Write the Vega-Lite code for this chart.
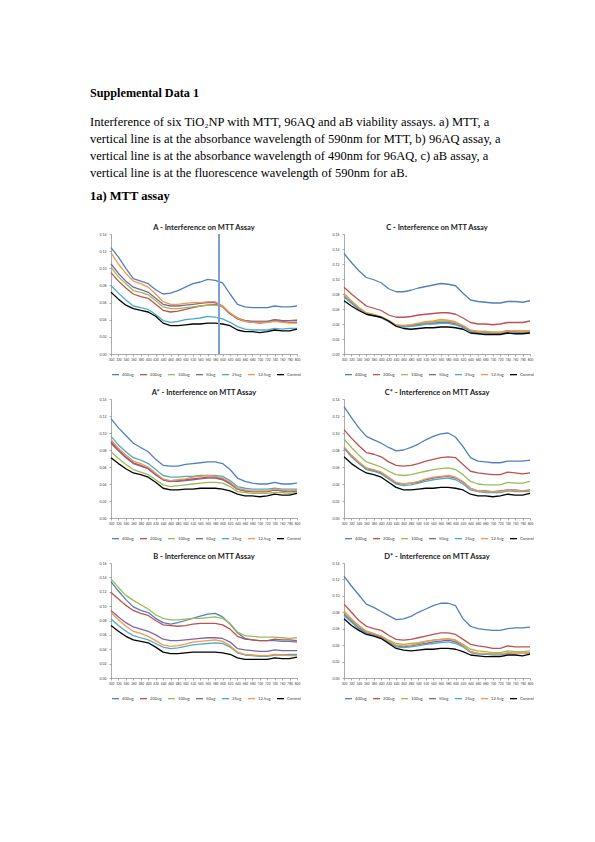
{
  "$schema": "https://vega.github.io/schema/vega-lite/v6.json",
  "background": "white",
  "padding": {"left": 90, "top": 86, "right": 0, "bottom": 0},
  "title": {
    "text": "Supplemental Data 1",
    "anchor": "start",
    "font": "Liberation Serif",
    "fontSize": 12.2,
    "fontWeight": "bold",
    "color": "black",
    "offset": 17
  },
  "datasets": {
    "A": [
      {"wl": 300, "400ug": 0.124, "200ug": 0.095, "100ug": 0.101, "50ug": 0.105, "25ug": 0.080, "12_5ug": 0.118, "Control": 0.072},
      {"wl": 320, "400ug": 0.113, "200ug": 0.085, "100ug": 0.090, "50ug": 0.094, "25ug": 0.071, "12_5ug": 0.105, "Control": 0.064},
      {"wl": 340, "400ug": 0.100, "200ug": 0.077, "100ug": 0.082, "50ug": 0.085, "25ug": 0.063, "12_5ug": 0.094, "Control": 0.057},
      {"wl": 360, "400ug": 0.088, "200ug": 0.070, "100ug": 0.074, "50ug": 0.078, "25ug": 0.056, "12_5ug": 0.085, "Control": 0.053},
      {"wl": 380, "400ug": 0.085, "200ug": 0.067, "100ug": 0.072, "50ug": 0.075, "25ug": 0.054, "12_5ug": 0.082, "Control": 0.051},
      {"wl": 400, "400ug": 0.082, "200ug": 0.065, "100ug": 0.069, "50ug": 0.072, "25ug": 0.052, "12_5ug": 0.078, "Control": 0.049},
      {"wl": 420, "400ug": 0.075, "200ug": 0.058, "100ug": 0.062, "50ug": 0.065, "25ug": 0.046, "12_5ug": 0.070, "Control": 0.044},
      {"wl": 440, "400ug": 0.070, "200ug": 0.051, "100ug": 0.055, "50ug": 0.058, "25ug": 0.039, "12_5ug": 0.061, "Control": 0.036},
      {"wl": 460, "400ug": 0.071, "200ug": 0.049, "100ug": 0.053, "50ug": 0.056, "25ug": 0.037, "12_5ug": 0.058, "Control": 0.033},
      {"wl": 480, "400ug": 0.074, "200ug": 0.050, "100ug": 0.053, "50ug": 0.056, "25ug": 0.038, "12_5ug": 0.058, "Control": 0.033},
      {"wl": 500, "400ug": 0.078, "200ug": 0.052, "100ug": 0.054, "50ug": 0.057, "25ug": 0.040, "12_5ug": 0.059, "Control": 0.034},
      {"wl": 520, "400ug": 0.082, "200ug": 0.054, "100ug": 0.055, "50ug": 0.058, "25ug": 0.041, "12_5ug": 0.060, "Control": 0.035},
      {"wl": 540, "400ug": 0.084, "200ug": 0.056, "100ug": 0.056, "50ug": 0.059, "25ug": 0.042, "12_5ug": 0.060, "Control": 0.035},
      {"wl": 560, "400ug": 0.087, "200ug": 0.057, "100ug": 0.057, "50ug": 0.060, "25ug": 0.044, "12_5ug": 0.061, "Control": 0.036},
      {"wl": 580, "400ug": 0.086, "200ug": 0.058, "100ug": 0.057, "50ug": 0.060, "25ug": 0.043, "12_5ug": 0.061, "Control": 0.036},
      {"wl": 600, "400ug": 0.083, "200ug": 0.055, "100ug": 0.055, "50ug": 0.056, "25ug": 0.041, "12_5ug": 0.056, "Control": 0.035},
      {"wl": 620, "400ug": 0.070, "200ug": 0.047, "100ug": 0.047, "50ug": 0.047, "25ug": 0.037, "12_5ug": 0.048, "Control": 0.033},
      {"wl": 640, "400ug": 0.058, "200ug": 0.041, "100ug": 0.042, "50ug": 0.042, "25ug": 0.032, "12_5ug": 0.042, "Control": 0.028},
      {"wl": 660, "400ug": 0.055, "200ug": 0.038, "100ug": 0.039, "50ug": 0.039, "25ug": 0.029, "12_5ug": 0.038, "Control": 0.026},
      {"wl": 680, "400ug": 0.054, "200ug": 0.037, "100ug": 0.038, "50ug": 0.038, "25ug": 0.028, "12_5ug": 0.037, "Control": 0.026},
      {"wl": 700, "400ug": 0.054, "200ug": 0.036, "100ug": 0.038, "50ug": 0.038, "25ug": 0.028, "12_5ug": 0.037, "Control": 0.025},
      {"wl": 720, "400ug": 0.054, "200ug": 0.037, "100ug": 0.038, "50ug": 0.038, "25ug": 0.028, "12_5ug": 0.037, "Control": 0.026},
      {"wl": 740, "400ug": 0.056, "200ug": 0.039, "100ug": 0.040, "50ug": 0.040, "25ug": 0.030, "12_5ug": 0.038, "Control": 0.028},
      {"wl": 760, "400ug": 0.055, "200ug": 0.038, "100ug": 0.039, "50ug": 0.039, "25ug": 0.029, "12_5ug": 0.037, "Control": 0.027},
      {"wl": 780, "400ug": 0.055, "200ug": 0.037, "100ug": 0.039, "50ug": 0.039, "25ug": 0.030, "12_5ug": 0.036, "Control": 0.027},
      {"wl": 800, "400ug": 0.056, "200ug": 0.037, "100ug": 0.040, "50ug": 0.039, "25ug": 0.030, "12_5ug": 0.036, "Control": 0.029}
    ],
    "C": [
      {"wl": 300, "400ug": 0.134, "200ug": 0.089, "100ug": 0.079, "50ug": 0.076, "25ug": 0.077, "12_5ug": 0.081, "Control": 0.071},
      {"wl": 320, "400ug": 0.122, "200ug": 0.080, "100ug": 0.070, "50ug": 0.068, "25ug": 0.068, "12_5ug": 0.071, "Control": 0.064},
      {"wl": 340, "400ug": 0.111, "200ug": 0.072, "100ug": 0.061, "50ug": 0.060, "25ug": 0.060, "12_5ug": 0.062, "Control": 0.058},
      {"wl": 360, "400ug": 0.102, "200ug": 0.064, "100ug": 0.054, "50ug": 0.054, "25ug": 0.053, "12_5ug": 0.055, "Control": 0.053},
      {"wl": 380, "400ug": 0.099, "200ug": 0.061, "100ug": 0.052, "50ug": 0.052, "25ug": 0.051, "12_5ug": 0.053, "Control": 0.051},
      {"wl": 400, "400ug": 0.095, "200ug": 0.058, "100ug": 0.049, "50ug": 0.049, "25ug": 0.048, "12_5ug": 0.050, "Control": 0.049},
      {"wl": 420, "400ug": 0.087, "200ug": 0.052, "100ug": 0.044, "50ug": 0.044, "25ug": 0.043, "12_5ug": 0.045, "Control": 0.044},
      {"wl": 440, "400ug": 0.083, "200ug": 0.049, "100ug": 0.038, "50ug": 0.038, "25ug": 0.037, "12_5ug": 0.039, "Control": 0.037},
      {"wl": 460, "400ug": 0.083, "200ug": 0.049, "100ug": 0.037, "50ug": 0.037, "25ug": 0.036, "12_5ug": 0.038, "Control": 0.034},
      {"wl": 480, "400ug": 0.085, "200ug": 0.050, "100ug": 0.038, "50ug": 0.038, "25ug": 0.037, "12_5ug": 0.039, "Control": 0.033},
      {"wl": 500, "400ug": 0.088, "200ug": 0.052, "100ug": 0.040, "50ug": 0.039, "25ug": 0.038, "12_5ug": 0.041, "Control": 0.034},
      {"wl": 520, "400ug": 0.090, "200ug": 0.053, "100ug": 0.042, "50ug": 0.040, "25ug": 0.040, "12_5ug": 0.043, "Control": 0.035},
      {"wl": 540, "400ug": 0.092, "200ug": 0.054, "100ug": 0.043, "50ug": 0.041, "25ug": 0.040, "12_5ug": 0.044, "Control": 0.035},
      {"wl": 560, "400ug": 0.094, "200ug": 0.055, "100ug": 0.044, "50ug": 0.042, "25ug": 0.041, "12_5ug": 0.046, "Control": 0.036},
      {"wl": 580, "400ug": 0.093, "200ug": 0.055, "100ug": 0.044, "50ug": 0.042, "25ug": 0.041, "12_5ug": 0.045, "Control": 0.036},
      {"wl": 600, "400ug": 0.091, "200ug": 0.053, "100ug": 0.042, "50ug": 0.040, "25ug": 0.039, "12_5ug": 0.043, "Control": 0.035},
      {"wl": 620, "400ug": 0.081, "200ug": 0.048, "100ug": 0.037, "50ug": 0.036, "25ug": 0.035, "12_5ug": 0.038, "Control": 0.033},
      {"wl": 640, "400ug": 0.072, "200ug": 0.042, "100ug": 0.031, "50ug": 0.031, "25ug": 0.030, "12_5ug": 0.032, "Control": 0.028},
      {"wl": 660, "400ug": 0.070, "200ug": 0.040, "100ug": 0.030, "50ug": 0.029, "25ug": 0.029, "12_5ug": 0.030, "Control": 0.027},
      {"wl": 680, "400ug": 0.069, "200ug": 0.040, "100ug": 0.030, "50ug": 0.029, "25ug": 0.028, "12_5ug": 0.030, "Control": 0.026},
      {"wl": 700, "400ug": 0.068, "200ug": 0.039, "100ug": 0.029, "50ug": 0.028, "25ug": 0.028, "12_5ug": 0.029, "Control": 0.026},
      {"wl": 720, "400ug": 0.068, "200ug": 0.040, "100ug": 0.029, "50ug": 0.028, "25ug": 0.028, "12_5ug": 0.029, "Control": 0.026},
      {"wl": 740, "400ug": 0.070, "200ug": 0.042, "100ug": 0.031, "50ug": 0.030, "25ug": 0.030, "12_5ug": 0.031, "Control": 0.028},
      {"wl": 760, "400ug": 0.070, "200ug": 0.042, "100ug": 0.031, "50ug": 0.030, "25ug": 0.029, "12_5ug": 0.031, "Control": 0.027},
      {"wl": 780, "400ug": 0.069, "200ug": 0.042, "100ug": 0.031, "50ug": 0.029, "25ug": 0.029, "12_5ug": 0.030, "Control": 0.027},
      {"wl": 800, "400ug": 0.071, "200ug": 0.044, "100ug": 0.031, "50ug": 0.030, "25ug": 0.030, "12_5ug": 0.031, "Control": 0.028}
    ],
    "As": [
      {"wl": 300, "400ug": 0.117, "200ug": 0.090, "100ug": 0.078, "50ug": 0.088, "25ug": 0.096, "12_5ug": 0.092, "Control": 0.071},
      {"wl": 320, "400ug": 0.106, "200ug": 0.080, "100ug": 0.070, "50ug": 0.079, "25ug": 0.086, "12_5ug": 0.082, "Control": 0.064},
      {"wl": 340, "400ug": 0.097, "200ug": 0.072, "100ug": 0.063, "50ug": 0.071, "25ug": 0.078, "12_5ug": 0.074, "Control": 0.058},
      {"wl": 360, "400ug": 0.088, "200ug": 0.065, "100ug": 0.057, "50ug": 0.064, "25ug": 0.071, "12_5ug": 0.067, "Control": 0.053},
      {"wl": 380, "400ug": 0.083, "200ug": 0.062, "100ug": 0.054, "50ug": 0.061, "25ug": 0.068, "12_5ug": 0.064, "Control": 0.051},
      {"wl": 400, "400ug": 0.078, "200ug": 0.058, "100ug": 0.051, "50ug": 0.058, "25ug": 0.064, "12_5ug": 0.060, "Control": 0.048},
      {"wl": 420, "400ug": 0.069, "200ug": 0.051, "100ug": 0.045, "50ug": 0.051, "25ug": 0.057, "12_5ug": 0.053, "Control": 0.042},
      {"wl": 440, "400ug": 0.062, "200ug": 0.045, "100ug": 0.039, "50ug": 0.045, "25ug": 0.050, "12_5ug": 0.046, "Control": 0.035},
      {"wl": 460, "400ug": 0.061, "200ug": 0.043, "100ug": 0.037, "50ug": 0.043, "25ug": 0.048, "12_5ug": 0.044, "Control": 0.033},
      {"wl": 480, "400ug": 0.061, "200ug": 0.044, "100ug": 0.038, "50ug": 0.043, "25ug": 0.048, "12_5ug": 0.045, "Control": 0.033},
      {"wl": 500, "400ug": 0.063, "200ug": 0.045, "100ug": 0.039, "50ug": 0.044, "25ug": 0.049, "12_5ug": 0.046, "Control": 0.034},
      {"wl": 520, "400ug": 0.064, "200ug": 0.046, "100ug": 0.040, "50ug": 0.045, "25ug": 0.049, "12_5ug": 0.048, "Control": 0.034},
      {"wl": 540, "400ug": 0.065, "200ug": 0.047, "100ug": 0.041, "50ug": 0.046, "25ug": 0.050, "12_5ug": 0.049, "Control": 0.035},
      {"wl": 560, "400ug": 0.066, "200ug": 0.048, "100ug": 0.042, "50ug": 0.047, "25ug": 0.050, "12_5ug": 0.050, "Control": 0.035},
      {"wl": 580, "400ug": 0.066, "200ug": 0.048, "100ug": 0.042, "50ug": 0.047, "25ug": 0.050, "12_5ug": 0.049, "Control": 0.035},
      {"wl": 600, "400ug": 0.064, "200ug": 0.046, "100ug": 0.041, "50ug": 0.045, "25ug": 0.049, "12_5ug": 0.047, "Control": 0.034},
      {"wl": 620, "400ug": 0.057, "200ug": 0.041, "100ug": 0.037, "50ug": 0.040, "25ug": 0.044, "12_5ug": 0.042, "Control": 0.032},
      {"wl": 640, "400ug": 0.047, "200ug": 0.034, "100ug": 0.031, "50ug": 0.034, "25ug": 0.037, "12_5ug": 0.035, "Control": 0.028},
      {"wl": 660, "400ug": 0.043, "200ug": 0.032, "100ug": 0.030, "50ug": 0.032, "25ug": 0.035, "12_5ug": 0.033, "Control": 0.026},
      {"wl": 680, "400ug": 0.041, "200ug": 0.031, "100ug": 0.029, "50ug": 0.031, "25ug": 0.034, "12_5ug": 0.032, "Control": 0.026},
      {"wl": 700, "400ug": 0.040, "200ug": 0.031, "100ug": 0.029, "50ug": 0.031, "25ug": 0.034, "12_5ug": 0.032, "Control": 0.025},
      {"wl": 720, "400ug": 0.040, "200ug": 0.031, "100ug": 0.029, "50ug": 0.031, "25ug": 0.034, "12_5ug": 0.032, "Control": 0.026},
      {"wl": 740, "400ug": 0.042, "200ug": 0.033, "100ug": 0.030, "50ug": 0.033, "25ug": 0.035, "12_5ug": 0.034, "Control": 0.028},
      {"wl": 760, "400ug": 0.040, "200ug": 0.032, "100ug": 0.030, "50ug": 0.032, "25ug": 0.034, "12_5ug": 0.033, "Control": 0.027},
      {"wl": 780, "400ug": 0.040, "200ug": 0.031, "100ug": 0.029, "50ug": 0.031, "25ug": 0.034, "12_5ug": 0.032, "Control": 0.027},
      {"wl": 800, "400ug": 0.041, "200ug": 0.032, "100ug": 0.030, "50ug": 0.032, "25ug": 0.034, "12_5ug": 0.033, "Control": 0.029}
    ],
    "Cs": [
      {"wl": 300, "400ug": 0.131, "200ug": 0.104, "100ug": 0.093, "50ug": 0.083, "25ug": 0.082, "12_5ug": 0.084, "Control": 0.072},
      {"wl": 320, "400ug": 0.118, "200ug": 0.094, "100ug": 0.083, "50ug": 0.073, "25ug": 0.072, "12_5ug": 0.074, "Control": 0.064},
      {"wl": 340, "400ug": 0.106, "200ug": 0.085, "100ug": 0.074, "50ug": 0.065, "25ug": 0.064, "12_5ug": 0.066, "Control": 0.058},
      {"wl": 360, "400ug": 0.096, "200ug": 0.077, "100ug": 0.066, "50ug": 0.058, "25ug": 0.057, "12_5ug": 0.059, "Control": 0.053},
      {"wl": 380, "400ug": 0.092, "200ug": 0.075, "100ug": 0.063, "50ug": 0.056, "25ug": 0.055, "12_5ug": 0.057, "Control": 0.051},
      {"wl": 400, "400ug": 0.088, "200ug": 0.072, "100ug": 0.060, "50ug": 0.053, "25ug": 0.052, "12_5ug": 0.054, "Control": 0.048},
      {"wl": 420, "400ug": 0.083, "200ug": 0.066, "100ug": 0.055, "50ug": 0.047, "25ug": 0.046, "12_5ug": 0.048, "Control": 0.042},
      {"wl": 440, "400ug": 0.079, "200ug": 0.062, "100ug": 0.051, "50ug": 0.041, "25ug": 0.040, "12_5ug": 0.042, "Control": 0.036},
      {"wl": 460, "400ug": 0.080, "200ug": 0.061, "100ug": 0.050, "50ug": 0.040, "25ug": 0.038, "12_5ug": 0.040, "Control": 0.033},
      {"wl": 480, "400ug": 0.083, "200ug": 0.062, "100ug": 0.051, "50ug": 0.041, "25ug": 0.039, "12_5ug": 0.041, "Control": 0.033},
      {"wl": 500, "400ug": 0.087, "200ug": 0.064, "100ug": 0.053, "50ug": 0.042, "25ug": 0.041, "12_5ug": 0.043, "Control": 0.034},
      {"wl": 520, "400ug": 0.092, "200ug": 0.067, "100ug": 0.055, "50ug": 0.045, "25ug": 0.043, "12_5ug": 0.046, "Control": 0.035},
      {"wl": 540, "400ug": 0.096, "200ug": 0.069, "100ug": 0.057, "50ug": 0.047, "25ug": 0.045, "12_5ug": 0.048, "Control": 0.035},
      {"wl": 560, "400ug": 0.099, "200ug": 0.071, "100ug": 0.058, "50ug": 0.048, "25ug": 0.046, "12_5ug": 0.049, "Control": 0.036},
      {"wl": 580, "400ug": 0.100, "200ug": 0.072, "100ug": 0.059, "50ug": 0.049, "25ug": 0.047, "12_5ug": 0.050, "Control": 0.036},
      {"wl": 600, "400ug": 0.095, "200ug": 0.071, "100ug": 0.057, "50ug": 0.047, "25ug": 0.045, "12_5ug": 0.048, "Control": 0.035},
      {"wl": 620, "400ug": 0.084, "200ug": 0.063, "100ug": 0.051, "50ug": 0.042, "25ug": 0.040, "12_5ug": 0.043, "Control": 0.033},
      {"wl": 640, "400ug": 0.071, "200ug": 0.055, "100ug": 0.043, "50ug": 0.035, "25ug": 0.033, "12_5ug": 0.035, "Control": 0.028},
      {"wl": 660, "400ug": 0.067, "200ug": 0.053, "100ug": 0.040, "50ug": 0.032, "25ug": 0.031, "12_5ug": 0.032, "Control": 0.026},
      {"wl": 680, "400ug": 0.066, "200ug": 0.052, "100ug": 0.039, "50ug": 0.032, "25ug": 0.030, "12_5ug": 0.031, "Control": 0.026},
      {"wl": 700, "400ug": 0.065, "200ug": 0.051, "100ug": 0.039, "50ug": 0.031, "25ug": 0.030, "12_5ug": 0.031, "Control": 0.025},
      {"wl": 720, "400ug": 0.065, "200ug": 0.051, "100ug": 0.039, "50ug": 0.032, "25ug": 0.030, "12_5ug": 0.031, "Control": 0.026},
      {"wl": 740, "400ug": 0.067, "200ug": 0.054, "100ug": 0.042, "50ug": 0.033, "25ug": 0.032, "12_5ug": 0.033, "Control": 0.028},
      {"wl": 760, "400ug": 0.067, "200ug": 0.053, "100ug": 0.041, "50ug": 0.033, "25ug": 0.031, "12_5ug": 0.032, "Control": 0.027},
      {"wl": 780, "400ug": 0.067, "200ug": 0.052, "100ug": 0.041, "50ug": 0.032, "25ug": 0.031, "12_5ug": 0.032, "Control": 0.027},
      {"wl": 800, "400ug": 0.068, "200ug": 0.053, "100ug": 0.043, "50ug": 0.033, "25ug": 0.031, "12_5ug": 0.032, "Control": 0.029}
    ],
    "B": [
      {"wl": 300, "400ug": 0.134, "200ug": 0.119, "100ug": 0.138, "50ug": 0.094, "25ug": 0.082, "12_5ug": 0.091, "Control": 0.073},
      {"wl": 320, "400ug": 0.121, "200ug": 0.110, "100ug": 0.126, "50ug": 0.085, "25ug": 0.073, "12_5ug": 0.081, "Control": 0.065},
      {"wl": 340, "400ug": 0.109, "200ug": 0.101, "100ug": 0.115, "50ug": 0.077, "25ug": 0.065, "12_5ug": 0.072, "Control": 0.058},
      {"wl": 360, "400ug": 0.099, "200ug": 0.094, "100ug": 0.108, "50ug": 0.071, "25ug": 0.059, "12_5ug": 0.065, "Control": 0.053},
      {"wl": 380, "400ug": 0.094, "200ug": 0.090, "100ug": 0.102, "50ug": 0.068, "25ug": 0.056, "12_5ug": 0.062, "Control": 0.051},
      {"wl": 400, "400ug": 0.091, "200ug": 0.087, "100ug": 0.096, "50ug": 0.065, "25ug": 0.053, "12_5ug": 0.058, "Control": 0.049},
      {"wl": 420, "400ug": 0.083, "200ug": 0.080, "100ug": 0.088, "50ug": 0.060, "25ug": 0.048, "12_5ug": 0.052, "Control": 0.043},
      {"wl": 440, "400ug": 0.077, "200ug": 0.074, "100ug": 0.083, "50ug": 0.054, "25ug": 0.043, "12_5ug": 0.046, "Control": 0.036},
      {"wl": 460, "400ug": 0.075, "200ug": 0.073, "100ug": 0.081, "50ug": 0.052, "25ug": 0.041, "12_5ug": 0.044, "Control": 0.034},
      {"wl": 480, "400ug": 0.077, "200ug": 0.072, "100ug": 0.081, "50ug": 0.052, "25ug": 0.042, "12_5ug": 0.045, "Control": 0.034},
      {"wl": 500, "400ug": 0.080, "200ug": 0.073, "100ug": 0.082, "50ug": 0.053, "25ug": 0.044, "12_5ug": 0.047, "Control": 0.035},
      {"wl": 520, "400ug": 0.083, "200ug": 0.075, "100ug": 0.083, "50ug": 0.054, "25ug": 0.046, "12_5ug": 0.050, "Control": 0.036},
      {"wl": 540, "400ug": 0.086, "200ug": 0.076, "100ug": 0.083, "50ug": 0.055, "25ug": 0.047, "12_5ug": 0.051, "Control": 0.036},
      {"wl": 560, "400ug": 0.089, "200ug": 0.076, "100ug": 0.084, "50ug": 0.056, "25ug": 0.048, "12_5ug": 0.052, "Control": 0.036},
      {"wl": 580, "400ug": 0.090, "200ug": 0.076, "100ug": 0.085, "50ug": 0.056, "25ug": 0.049, "12_5ug": 0.053, "Control": 0.036},
      {"wl": 600, "400ug": 0.085, "200ug": 0.074, "100ug": 0.083, "50ug": 0.055, "25ug": 0.048, "12_5ug": 0.051, "Control": 0.035},
      {"wl": 620, "400ug": 0.075, "200ug": 0.068, "100ug": 0.076, "50ug": 0.050, "25ug": 0.043, "12_5ug": 0.045, "Control": 0.033},
      {"wl": 640, "400ug": 0.063, "200ug": 0.058, "100ug": 0.064, "50ug": 0.041, "25ug": 0.035, "12_5ug": 0.036, "Control": 0.028},
      {"wl": 660, "400ug": 0.055, "200ug": 0.054, "100ug": 0.059, "50ug": 0.039, "25ug": 0.032, "12_5ug": 0.033, "Control": 0.026},
      {"wl": 680, "400ug": 0.053, "200ug": 0.053, "100ug": 0.058, "50ug": 0.038, "25ug": 0.031, "12_5ug": 0.032, "Control": 0.026},
      {"wl": 700, "400ug": 0.052, "200ug": 0.052, "100ug": 0.057, "50ug": 0.037, "25ug": 0.030, "12_5ug": 0.031, "Control": 0.026},
      {"wl": 720, "400ug": 0.052, "200ug": 0.052, "100ug": 0.057, "50ug": 0.037, "25ug": 0.030, "12_5ug": 0.031, "Control": 0.026},
      {"wl": 740, "400ug": 0.052, "200ug": 0.054, "100ug": 0.057, "50ug": 0.039, "25ug": 0.032, "12_5ug": 0.033, "Control": 0.028},
      {"wl": 760, "400ug": 0.051, "200ug": 0.053, "100ug": 0.056, "50ug": 0.038, "25ug": 0.032, "12_5ug": 0.032, "Control": 0.027},
      {"wl": 780, "400ug": 0.051, "200ug": 0.053, "100ug": 0.055, "50ug": 0.038, "25ug": 0.033, "12_5ug": 0.031, "Control": 0.027},
      {"wl": 800, "400ug": 0.050, "200ug": 0.052, "100ug": 0.056, "50ug": 0.038, "25ug": 0.033, "12_5ug": 0.031, "Control": 0.029}
    ],
    "Ds": [
      {"wl": 300, "400ug": 0.124, "200ug": 0.090, "100ug": 0.081, "50ug": 0.078, "25ug": 0.076, "12_5ug": 0.082, "Control": 0.072},
      {"wl": 320, "400ug": 0.112, "200ug": 0.080, "100ug": 0.071, "50ug": 0.069, "25ug": 0.068, "12_5ug": 0.072, "Control": 0.064},
      {"wl": 340, "400ug": 0.101, "200ug": 0.070, "100ug": 0.063, "50ug": 0.061, "25ug": 0.060, "12_5ug": 0.064, "Control": 0.058},
      {"wl": 360, "400ug": 0.090, "200ug": 0.063, "100ug": 0.057, "50ug": 0.055, "25ug": 0.054, "12_5ug": 0.057, "Control": 0.053},
      {"wl": 380, "400ug": 0.086, "200ug": 0.060, "100ug": 0.054, "50ug": 0.053, "25ug": 0.052, "12_5ug": 0.054, "Control": 0.051},
      {"wl": 400, "400ug": 0.081, "200ug": 0.058, "100ug": 0.051, "50ug": 0.050, "25ug": 0.049, "12_5ug": 0.051, "Control": 0.048},
      {"wl": 420, "400ug": 0.076, "200ug": 0.052, "100ug": 0.046, "50ug": 0.044, "25ug": 0.043, "12_5ug": 0.045, "Control": 0.042},
      {"wl": 440, "400ug": 0.071, "200ug": 0.047, "100ug": 0.042, "50ug": 0.039, "25ug": 0.038, "12_5ug": 0.040, "Control": 0.036},
      {"wl": 460, "400ug": 0.072, "200ug": 0.046, "100ug": 0.041, "50ug": 0.038, "25ug": 0.037, "12_5ug": 0.039, "Control": 0.034},
      {"wl": 480, "400ug": 0.075, "200ug": 0.047, "100ug": 0.042, "50ug": 0.039, "25ug": 0.038, "12_5ug": 0.040, "Control": 0.033},
      {"wl": 500, "400ug": 0.080, "200ug": 0.049, "100ug": 0.043, "50ug": 0.041, "25ug": 0.039, "12_5ug": 0.042, "Control": 0.034},
      {"wl": 520, "400ug": 0.084, "200ug": 0.051, "100ug": 0.045, "50ug": 0.042, "25ug": 0.041, "12_5ug": 0.044, "Control": 0.035},
      {"wl": 540, "400ug": 0.088, "200ug": 0.053, "100ug": 0.046, "50ug": 0.044, "25ug": 0.042, "12_5ug": 0.046, "Control": 0.035},
      {"wl": 560, "400ug": 0.091, "200ug": 0.055, "100ug": 0.047, "50ug": 0.045, "25ug": 0.043, "12_5ug": 0.047, "Control": 0.036},
      {"wl": 580, "400ug": 0.091, "200ug": 0.055, "100ug": 0.048, "50ug": 0.046, "25ug": 0.044, "12_5ug": 0.048, "Control": 0.036},
      {"wl": 600, "400ug": 0.088, "200ug": 0.053, "100ug": 0.046, "50ug": 0.044, "25ug": 0.042, "12_5ug": 0.046, "Control": 0.035},
      {"wl": 620, "400ug": 0.072, "200ug": 0.047, "100ug": 0.041, "50ug": 0.039, "25ug": 0.038, "12_5ug": 0.040, "Control": 0.032},
      {"wl": 640, "400ug": 0.063, "200ug": 0.041, "100ug": 0.035, "50ug": 0.032, "25ug": 0.031, "12_5ug": 0.032, "Control": 0.028},
      {"wl": 660, "400ug": 0.060, "200ug": 0.039, "100ug": 0.033, "50ug": 0.030, "25ug": 0.029, "12_5ug": 0.030, "Control": 0.027},
      {"wl": 680, "400ug": 0.059, "200ug": 0.038, "100ug": 0.032, "50ug": 0.029, "25ug": 0.029, "12_5ug": 0.030, "Control": 0.026},
      {"wl": 700, "400ug": 0.058, "200ug": 0.036, "100ug": 0.031, "50ug": 0.029, "25ug": 0.028, "12_5ug": 0.029, "Control": 0.026},
      {"wl": 720, "400ug": 0.058, "200ug": 0.036, "100ug": 0.031, "50ug": 0.029, "25ug": 0.028, "12_5ug": 0.029, "Control": 0.026},
      {"wl": 740, "400ug": 0.060, "200ug": 0.039, "100ug": 0.033, "50ug": 0.030, "25ug": 0.030, "12_5ug": 0.031, "Control": 0.028},
      {"wl": 760, "400ug": 0.061, "200ug": 0.038, "100ug": 0.032, "50ug": 0.030, "25ug": 0.030, "12_5ug": 0.030, "Control": 0.028},
      {"wl": 780, "400ug": 0.061, "200ug": 0.038, "100ug": 0.032, "50ug": 0.030, "25ug": 0.030, "12_5ug": 0.030, "Control": 0.027},
      {"wl": 800, "400ug": 0.062, "200ug": 0.038, "100ug": 0.033, "50ug": 0.030, "25ug": 0.031, "12_5ug": 0.030, "Control": 0.029}
    ]
  },
  "vconcat": [
    {
      "title": {
        "text": [
          "Interference of six TiO₂NP with MTT, 96AQ and aB viability assays. a) MTT, a",
          "vertical line is at the absorbance wavelength of 590nm for MTT, b) 96AQ assay, a",
          "vertical line is at the absorbance wavelength of 490nm for 96AQ, c) aB assay, a",
          "vertical line is at the fluorescence wavelength of 590nm for aB."
        ],
        "anchor": "start",
        "font": "Liberation Serif, DejaVu Serif",
        "fontSize": 12.5,
        "fontWeight": "normal",
        "color": "black",
        "lineHeight": 17,
        "offset": 10
      },
      "vconcat": [
        {
          "title": {
            "text": "1a) MTT assay",
            "anchor": "start",
            "font": "Liberation Serif",
            "fontSize": 12.5,
            "fontWeight": "bold",
            "color": "black",
            "offset": 22
          },
          "columns": 2,
          "spacing": {"row": 12, "column": 22},
          "resolve": {
            "scale": {"x": "independent", "y": "independent", "color": "independent"},
            "legend": {"color": "independent"}
          },
          "concat": [
            {
              "title": "A - Interference on MTT Assay",
              "width": 186,
              "height": 120,
              "data": {"name": "A"},
              "transform": [{"fold": ["400ug", "200ug", "100ug", "50ug", "25ug", "12_5ug", "Control"], "as": ["s", "v"]}],
              "layer": [
                {
                  "mark": "line",
                  "encoding": {
                    "x": {"field": "wl", "type": "quantitative", "title": null, "scale": {"domain": [300, 800], "nice": false, "zero": false}},
                    "y": {"field": "v", "type": "quantitative", "title": null, "scale": {"domain": [0, 0.14], "nice": false}},
                    "color": {
                      "field": "s", "type": "nominal", "title": null,
                      "scale": {"domain": ["400ug", "200ug", "100ug", "50ug", "25ug", "12_5ug", "Control"], "range": ["#4F81BD", "#C0504D", "#9BBB59", "#8064A2", "#4BACC6", "#F79646", "#000000"]},
                      "legend": {"labelExpr": "datum.label == '12_5ug' ? '12.5ug' : datum.label"}
                    }
                  }
                },
                {
                  "mark": {"type": "rule", "color": "#7da2d4", "strokeWidth": 0.9},
                  "encoding": {"x": {"datum": 590}}
                }
              ]
            },
            {
              "title": "C - Interference on MTT Assay",
              "width": 186,
              "height": 120,
              "data": {"name": "C"},
              "transform": [{"fold": ["400ug", "200ug", "100ug", "50ug", "25ug", "12_5ug", "Control"], "as": ["s", "v"]}],
              "mark": "line",
              "encoding": {
                "x": {"field": "wl", "type": "quantitative", "title": null, "scale": {"domain": [300, 800], "nice": false, "zero": false}},
                "y": {"field": "v", "type": "quantitative", "title": null, "scale": {"domain": [0, 0.16], "nice": false}},
                "color": {
                  "field": "s", "type": "nominal", "title": null,
                  "scale": {"domain": ["400ug", "200ug", "100ug", "50ug", "25ug", "12_5ug", "Control"], "range": ["#4F81BD", "#C0504D", "#9BBB59", "#8064A2", "#4BACC6", "#F79646", "#000000"]},
                  "legend": {"labelExpr": "datum.label == '12_5ug' ? '12.5ug' : datum.label"}
                }
              }
            },
            {
              "title": "A* - Interference on MTT Assay",
              "width": 186,
              "height": 119,
              "data": {"name": "As"},
              "transform": [{"fold": ["400ug", "200ug", "100ug", "50ug", "25ug", "12_5ug", "Control"], "as": ["s", "v"]}],
              "mark": "line",
              "encoding": {
                "x": {"field": "wl", "type": "quantitative", "title": null, "scale": {"domain": [300, 800], "nice": false, "zero": false}},
                "y": {"field": "v", "type": "quantitative", "title": null, "scale": {"domain": [0, 0.14], "nice": false}},
                "color": {
                  "field": "s", "type": "nominal", "title": null,
                  "scale": {"domain": ["400ug", "200ug", "100ug", "50ug", "25ug", "12_5ug", "Control"], "range": ["#4F81BD", "#C0504D", "#9BBB59", "#8064A2", "#4BACC6", "#F79646", "#000000"]},
                  "legend": {"labelExpr": "datum.label == '12_5ug' ? '12.5ug' : datum.label"}
                }
              }
            },
            {
              "title": "C* - Interference on MTT Assay",
              "width": 186,
              "height": 119,
              "data": {"name": "Cs"},
              "transform": [{"fold": ["400ug", "200ug", "100ug", "50ug", "25ug", "12_5ug", "Control"], "as": ["s", "v"]}],
              "mark": "line",
              "encoding": {
                "x": {"field": "wl", "type": "quantitative", "title": null, "scale": {"domain": [300, 800], "nice": false, "zero": false}},
                "y": {"field": "v", "type": "quantitative", "title": null, "scale": {"domain": [0, 0.14], "nice": false}},
                "color": {
                  "field": "s", "type": "nominal", "title": null,
                  "scale": {"domain": ["400ug", "200ug", "100ug", "50ug", "25ug", "12_5ug", "Control"], "range": ["#4F81BD", "#C0504D", "#9BBB59", "#8064A2", "#4BACC6", "#F79646", "#000000"]},
                  "legend": {"labelExpr": "datum.label == '12_5ug' ? '12.5ug' : datum.label"}
                }
              }
            },
            {
              "title": "B - Interference on MTT Assay",
              "width": 186,
              "height": 115,
              "data": {"name": "B"},
              "transform": [{"fold": ["400ug", "200ug", "100ug", "50ug", "25ug", "12_5ug", "Control"], "as": ["s", "v"]}],
              "mark": "line",
              "encoding": {
                "x": {"field": "wl", "type": "quantitative", "title": null, "scale": {"domain": [300, 800], "nice": false, "zero": false}},
                "y": {"field": "v", "type": "quantitative", "title": null, "scale": {"domain": [0, 0.16], "nice": false}},
                "color": {
                  "field": "s", "type": "nominal", "title": null,
                  "scale": {"domain": ["400ug", "200ug", "100ug", "50ug", "25ug", "12_5ug", "Control"], "range": ["#4F81BD", "#C0504D", "#9BBB59", "#8064A2", "#4BACC6", "#F79646", "#000000"]},
                  "legend": {"labelExpr": "datum.label == '12_5ug' ? '12.5ug' : datum.label"}
                }
              }
            },
            {
              "title": "D* - Interference on MTT Assay",
              "width": 186,
              "height": 115,
              "data": {"name": "Ds"},
              "transform": [{"fold": ["400ug", "200ug", "100ug", "50ug", "25ug", "12_5ug", "Control"], "as": ["s", "v"]}],
              "mark": "line",
              "encoding": {
                "x": {"field": "wl", "type": "quantitative", "title": null, "scale": {"domain": [300, 800], "nice": false, "zero": false}},
                "y": {"field": "v", "type": "quantitative", "title": null, "scale": {"domain": [0, 0.14], "nice": false}},
                "color": {
                  "field": "s", "type": "nominal", "title": null,
                  "scale": {"domain": ["400ug", "200ug", "100ug", "50ug", "25ug", "12_5ug", "Control"], "range": ["#4F81BD", "#C0504D", "#9BBB59", "#8064A2", "#4BACC6", "#F79646", "#000000"]},
                  "legend": {"labelExpr": "datum.label == '12_5ug' ? '12.5ug' : datum.label"}
                }
              }
            }
          ]
        }
      ]
    }
  ],
  "config": {
    "view": {"stroke": null},
    "title": {"font": "Lato", "fontSize": 7.5, "fontWeight": "bold", "color": "#1a1a1a", "offset": 0.5, "anchor": "middle"},
    "line": {"strokeWidth": 1.3, "strokeJoin": "round"},
    "axis": {"grid": false, "domainColor": "#868686", "tickColor": "#868686", "domainWidth": 0.7, "tickWidth": 0.7, "tickSize": 2, "labelFont": "Lato", "labelColor": "#404040"},
    "axisX": {"tickCount": 25, "labelFontSize": 3.2, "labelPadding": 1, "labelOverlap": false, "labelAngle": 0, "labelFlush": false},
    "axisY": {"tickCount": 8, "format": ".2f", "labelFontSize": 3.5, "labelPadding": 3, "minExtent": 21, "maxExtent": 21},
    "legend": {"orient": "bottom", "direction": "horizontal", "symbolType": "stroke", "symbolSize": 50, "symbolStrokeWidth": 1.5, "labelFontSize": 4.2, "labelFont": "Lato", "labelColor": "#404040", "columnPadding": 5, "labelOffset": 2, "offset": 9, "padding": 0, "rowPadding": 0}
  }
}
